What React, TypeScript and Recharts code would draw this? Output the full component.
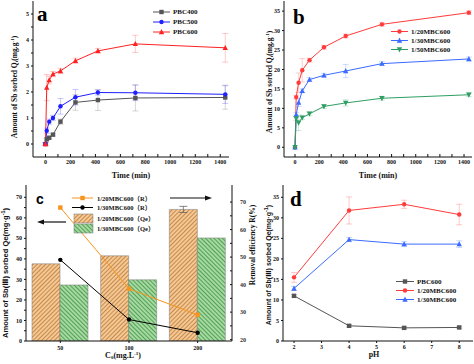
import React from 'react';
import { ComposedChart, LineChart, Line, Bar, XAxis, YAxis, ErrorBar, Legend, Label } from 'recharts';

// a / b : sorption kinetics
const timeMin = [0, 10, 30, 60, 120, 240, 420, 720, 1440];
const timeTicks = [0, 100, 200, 300, 400, 500, 600, 700, 800, 900, 1000, 1100, 1200, 1300, 1400];

const pbc400 = [0, 0.18, 0.24, 0.36, 0.86, 1.6, 1.69, 1.77, 1.79];
const pbc400Err = [0.05, 0.05, 0.05, 0.05, 0.1, 0.3, 0.4, 0.5, 0.45];
const pbc500 = [0, 0.51, 0.86, 1.0, 1.45, 1.8, 1.98, 1.97, 1.91];
const pbc500Err = [0.05, 0.1, 0.1, 0.1, 0.3, 0.3, 0.1, 0.3, 0.35];
const pbc600 = [0, 2.17, 2.46, 2.69, 2.81, 3.2, 3.58, 3.85, 3.7];
const pbc600Err = [0.05, 0.5, 0.15, 0.1, 0.1, 0.1, 0.1, 0.33, 0.55];
const aYTicks = [0, 0.5, 1, 1.5, 2, 2.5, 3, 3.5, 4, 4.5, 5];

const mbc20 = [0, 12.9, 16.6, 19.8, 22.4, 25.7, 28.6, 31.6, 34.6];
const mbc20Err = [0, 0.5, 2.5, 3, 0.5, 0.5, 0.5, 0.5, 0.5];
const mbc30 = [0, 8.4, 11.5, 14.5, 17.4, 18.5, 19.6, 21.5, 22.7];
const mbc30Err = [0, 0.5, 1, 0.5, 0.5, 0.5, 1.7, 0.5, 0.5];
const mbc50 = [0, 7.4, 6.3, 7.6, 8.6, 10.5, 11.4, 12.6, 13.5];
const mbc50Err = [0, 0.5, 2, 0.5, 0.5, 0.5, 0.8, 0.5, 0.5];
const bYTicks = [0, 5, 10, 15, 20, 25, 30, 35];

// c : initial concentration
const c0Labels = ['50', '100', '200'];
const qe20 = [37.6, 41.5, 64.1];
const qe20Err = [0, 0, 1.5];
const qe30 = [27.3, 29.8, 50.2];
const r20 = [68, 38.5, 29];
const r30 = [49, 27.3, 22.5];
const cYTicks = [0, 5, 10, 15, 20, 25, 30, 35, 40, 45, 50, 55, 60, 65, 70];
const rTicks = [20, 25, 30, 35, 40, 45, 50, 55, 60, 65, 70];

// d : pH
const phValues = [2, 4, 6, 8];
const pbc600Ph = [11, 3.7, 3.2, 3.3];
const pbc600PhErr = [0.3, 0.3, 0.3, 0.3];
const mbc20Ph = [15.5, 31.8, 33.3, 30.8];
const mbc20PhErr = [1.2, 3.3, 1, 2.5];
const mbc30Ph = [12.8, 24.7, 23.6, 23.6];
const mbc30PhErr = [0.5, 0.5, 0.6, 0.8];
const phTicks = [2, 3, 4, 5, 6, 7, 8];
const dYTicks = [0, 5, 10, 15, 20, 25, 30, 35];

const aData = timeMin.map((t, i) => ({
	t,
	pbc400: pbc400[i], e400: pbc400Err[i],
	pbc500: pbc500[i], e500: pbc500Err[i],
	pbc600: pbc600[i], e600: pbc600Err[i],
}));
const bData = timeMin.map((t, i) => ({
	t,
	m20: mbc20[i], e20: mbc20Err[i],
	m30: mbc30[i], e30: mbc30Err[i],
	m50: mbc50[i], e50: mbc50Err[i],
}));
const cData = c0Labels.map((c0, i) => ({ c0, qe20: qe20[i], qe20Err: qe20Err[i], qe30: qe30[i], r20: r20[i], r30: r30[i] }));
const dData = phValues.map((ph, i) => ({
	ph,
	pbc: pbc600Ph[i], ePbc: pbc600PhErr[i],
	m20: mbc20Ph[i], e20: mbc20PhErr[i],
	m30: mbc30Ph[i], e30: mbc30PhErr[i],
}));

type Shape = 'square' | 'circle' | 'up' | 'down';
type Series = { key: string; err: string; name: string; color: string; shape: Shape };

const aSeries: Series[] = [
	{ key: 'pbc400', err: 'e400', name: 'PBC400', color: '#555555', shape: 'square' },
	{ key: 'pbc500', err: 'e500', name: 'PBC500', color: '#1f1fff', shape: 'circle' },
	{ key: 'pbc600', err: 'e600', name: 'PBC600', color: '#ff2222', shape: 'up' },
];
const bSeries: Series[] = [
	{ key: 'm20', err: 'e20', name: '1/20MBC600', color: '#ff3b3b', shape: 'circle' },
	{ key: 'm30', err: 'e30', name: '1/30MBC600', color: '#3b6bff', shape: 'up' },
	{ key: 'm50', err: 'e50', name: '1/50MBC600', color: '#2f9e62', shape: 'down' },
];
const dSeries: Series[] = [
	{ key: 'pbc', err: 'ePbc', name: 'PBC600', color: '#555555', shape: 'square' },
	{ key: 'm20', err: 'e20', name: '1/20MBC600', color: '#ff3b3b', shape: 'circle' },
	{ key: 'm30', err: 'e30', name: '1/30MBC600', color: '#3b6bff', shape: 'up' },
];
const cLineSeries = [
	{ key: 'r20', name: '1/20MBC600（R）', color: '#f7941d', shape: 'square' as Shape },
	{ key: 'r30', name: '1/30MBC600（R）', color: '#000000', shape: 'circle' as Shape },
];
const cBarSeries = [
	{ key: 'qe20', name: '1/20MBC600（Qe）', pattern: 'hatchOrange' },
	{ key: 'qe30', name: '1/30MBC600（Qe）', pattern: 'hatchGreen' },
];

const SERIF = "'Liberation Serif', 'Noto Sans CJK SC', serif";
const SANS = "'Liberation Sans', 'DejaVu Sans', 'Noto Sans CJK SC', sans-serif";
const tickStyle = { fontSize: 6, fontFamily: SERIF, fontWeight: 700, fill: '#111' };
const titleSerif: React.CSSProperties = { fontSize: 7.5, fontFamily: SERIF, fontWeight: 700, fill: '#111' };
const titleSans: React.CSSProperties = { fontSize: 7.6, fontFamily: SANS, fontWeight: 700, fill: '#111' };
const legendText: React.CSSProperties = { fontSize: 7, fontFamily: SERIF, fontWeight: 700, fill: '#111' };

const intOnly = (v: number) => (Number.isInteger(v) ? String(v) : '');
const every = (step: number) => (v: number) => (v % step === 0 ? String(v) : '');

const Marker = ({ cx, cy, shape, color, size = 4.4 }: { cx?: number; cy?: number; shape: Shape; color: string; size?: number }) => {
	if (cx == null || cy == null || isNaN(cx) || isNaN(cy)) return null;
	const h = size / 2;
	if (shape === 'square') return <rect x={cx - h} y={cy - h} width={size} height={size} fill={color} />;
	if (shape === 'circle') return <circle cx={cx} cy={cy} r={h} fill={color} />;
	if (shape === 'up')
		return <polygon points={`${cx},${cy - h - 0.7} ${cx - h - 0.5},${cy + h} ${cx + h + 0.5},${cy + h}`} fill={color} />;
	return <polygon points={`${cx},${cy + h + 0.7} ${cx - h - 0.5},${cy - h} ${cx + h + 0.5},${cy - h}`} fill={color} />;
};

const dotFor = (shape: Shape, color: string) => (p: any) => (
	<Marker key={`dot-${p.index}`} cx={p.cx} cy={p.cy} shape={shape} color={color} />
);

// rotated axis title, centred on the axis box
const vTitle = (dx: number, dy: number, style: React.CSSProperties, body: React.ReactNode) => (props: any) => {
	const vb = props.viewBox;
	const x = vb.x + dx;
	const y = vb.y + vb.height / 2 + dy;
	return (
		<text x={x} y={y} transform={`rotate(-90 ${x} ${y})`} textAnchor='middle' dominantBaseline='central' style={style}>
			{body}
		</text>
	);
};

const hTitle = (dx: number, dy: number, style: React.CSSProperties, body: React.ReactNode) => (props: any) => {
	const vb = props.viewBox;
	const x = vb.x + vb.width / 2 + dx;
	const y = vb.y + dy;
	return (
		<text x={x} y={y} textAnchor='middle' dominantBaseline='central' style={style}>
			{body}
		</text>
	);
};

const qtTitle = (
	<>
		Amount of Sb sorbed Q<tspan dy={1.5} fontSize={5}>t</tspan>
		<tspan dy={-1.5}>(mg.g</tspan>
		<tspan dy={-2.5} fontSize={5}>-1</tspan>
		<tspan dy={2.5}>)</tspan>
	</>
);
const qeTitle = (
	<>
		Amount of Sb(Ⅲ) sorbed Qe(mg·g<tspan dy={-2.5} fontSize={5.5}>-1</tspan>
		<tspan dy={2.5}>)</tspan>
	</>
);

const LineLegend = ({ items, rowH, lineLen }: { items: Series[]; rowH: number; lineLen: number }) => (
	<svg width={100} height={items.length * rowH} style={{ display: 'block', overflow: 'visible' }}>
		{items.map((s, i) => {
			const y = rowH * i + rowH / 2;
			return (
				<g key={s.key}>
					<line x1={0} x2={lineLen} y1={y} y2={y} stroke={s.color} strokeWidth={1} />
					<Marker cx={lineLen / 2} cy={y} shape={s.shape} color={s.color} />
					<text x={lineLen + 3} y={y} dominantBaseline='central' style={legendText}>
						{s.name}
					</text>
				</g>
			);
		})}
	</svg>
);

const CLegend = () => (
	<svg width={190} height={46} style={{ display: 'block', overflow: 'visible' }}>
		{cLineSeries.map((s, i) => {
			const y = 8 + i * 9.5;
			return (
				<g key={s.key}>
					<line x1={42} x2={63} y1={y} y2={y} stroke={s.color} strokeWidth={1} />
					<Marker cx={52.5} cy={y} shape={s.shape} color={s.color} />
					<text x={67} y={y} dominantBaseline='central' style={{ ...legendText, fontSize: 6.5 }}>
						{s.name}
					</text>
				</g>
			);
		})}
		{cBarSeries.map((s, i) => {
			const y = 28.5 + i * 10;
			return (
				<g key={s.key}>
					<rect x={44} y={y - 4.5} width={19} height={9} fill={`url(#${s.pattern})`} stroke='#777' strokeWidth={0.5} />
					<text x={67} y={y} dominantBaseline='central' style={{ ...legendText, fontSize: 6.5 }}>
						{s.name}
					</text>
				</g>
			);
		})}
		<line x1={140} x2={176} y1={8} y2={8} stroke='#111' strokeWidth={1.2} />
		<polygon points='182,8 175,5.5 175,10.5' fill='#111' />
		<line x1={13} x2={36} y1={32} y2={32} stroke='#111' strokeWidth={1.2} />
		<polygon points='7,32 14,29.5 14,34.5' fill='#111' />
	</svg>
);

const axisLine = { stroke: '#111', strokeWidth: 1 };

const KineticsChart = ({
	data, series, yDomain, yTicks, yFmt, yWidth, titleDx, titleDy, legendPos, rowH,
}: {
	data: any[]; series: Series[]; yDomain: [number, number]; yTicks: number[]; yFmt: (v: number) => string;
	yWidth: number; titleDx: number; titleDy: number; legendPos: { left: number; top: number }; rowH: number;
}) => (
	<LineChart width={yWidth === 33 ? 232 : 234} height={182} data={data} margin={{ top: 1, right: yWidth === 33 ? 3 : 2, bottom: 0, left: 0 }}>
		<XAxis
			dataKey='t' type='number' domain={yWidth === 33 ? [-100, 1470] : [-91, 1466]} ticks={timeTicks} interval={0}
			tickFormatter={every(200)} height={25} tickSize={-3} tickMargin={6} tick={tickStyle}
			axisLine={axisLine} tickLine={{ stroke: '#111' }} allowDataOverflow
		>
			<Label content={hTitle(0, 18, { ...titleSerif, fontSize: 8 }, 'Time (min)')} />
		</XAxis>
		<XAxis xAxisId='top' orientation='top' type='number' domain={[0, 1]} height={0} tick={false} tickLine={false} axisLine={{ stroke: '#999', strokeWidth: 2 }} />
		<YAxis
			type='number' domain={yDomain} ticks={yTicks} interval={0} tickFormatter={yFmt} width={yWidth}
			tickSize={2} tickMargin={2} tick={tickStyle} axisLine={axisLine} tickLine={{ stroke: '#111' }} allowDataOverflow
		>
			<Label content={vTitle(titleDx, titleDy, titleSerif, qtTitle)} />
		</YAxis>
		<YAxis yAxisId='frame' orientation='right' width={0} domain={[0, 1]} tick={false} tickLine={false} axisLine={axisLine} />
		{series.map((s) => (
			<Line
				key={s.key} dataKey={s.key} stroke={s.color} strokeWidth={1} dot={dotFor(s.shape, s.color)}
				activeDot={false} isAnimationActive={false}
			>
				<ErrorBar dataKey={s.err} width={3} stroke={s.color} strokeOpacity={0.3} strokeWidth={0.8} direction='y' />
			</Line>
		))}
		<Legend
			layout='horizontal' verticalAlign='middle' align='center'
			wrapperStyle={{ ...legendPos, width: 100, height: series.length * rowH }}
			content={() => <LineLegend items={series} rowH={rowH} lineLen={17} />}
		/>
	</LineChart>
);

const PanelC = () => (
	<ComposedChart width={262} height={182} data={cData} margin={{ top: 3, right: 0, bottom: 0, left: 0 }} barCategoryGap={6} barGap={0}>
		<defs>
			<pattern id='hatchOrange' patternUnits='userSpaceOnUse' width={3} height={3} patternTransform='rotate(45)'>
				<rect width={3} height={3} fill='#f5c891' />
				<line x1={0.5} y1={0} x2={0.5} y2={3} stroke='#c0824a' strokeWidth={0.9} />
			</pattern>
			<pattern id='hatchGreen' patternUnits='userSpaceOnUse' width={3} height={3} patternTransform='rotate(-45)'>
				<rect width={3} height={3} fill='#a6d9a0' />
				<line x1={0.5} y1={0} x2={0.5} y2={3} stroke='#4a9a50' strokeWidth={0.9} />
			</pattern>
		</defs>
		<XAxis dataKey='c0' height={23} tickSize={2} tickMargin={3} tick={tickStyle} axisLine={axisLine} tickLine={{ stroke: '#111' }}>
			<Label
				content={hTitle(-6, 14, { ...titleSerif, fontSize: 8 }, (
					<>
						C<tspan dy={1.5} fontSize={5}>0</tspan>
						<tspan dy={-1.5}>(mg.L</tspan>
						<tspan dy={-2.5} fontSize={5}>-1</tspan>
						<tspan dy={2.5}>)</tspan>
					</>
				))}
			/>
		</XAxis>
		<XAxis xAxisId='top' orientation='top' type='number' domain={[0, 1]} height={0} tick={false} tickLine={false} axisLine={axisLine} />
		<YAxis
			yAxisId='left' type='number' domain={[0, 76]} ticks={cYTicks} interval={0} tickFormatter={every(10)} width={26}
			tickSize={2} tickMargin={2} tick={tickStyle} axisLine={axisLine} tickLine={{ stroke: '#111' }} allowDataOverflow
		>
			<Label content={vTitle(5, 10, titleSans, qeTitle)} />
		</YAxis>
		<YAxis
			yAxisId='r' orientation='right' type='number' domain={[19.5, 76.2]} ticks={rTicks} interval={0} tickFormatter={every(10)}
			width={30} tickSize={-2} tickMargin={10} tick={{ ...tickStyle, fill: '#333' }} axisLine={axisLine} tickLine={{ stroke: '#111' }} allowDataOverflow
		>
			<Label content={vTitle(20, -18, titleSerif, 'Removal efficiency R(%)')} />
		</YAxis>
		{cBarSeries.map((s) => (
			<Bar key={s.key} yAxisId='left' dataKey={s.key} fill={`url(#${s.pattern})`} stroke='#777' strokeWidth={0.5} isAnimationActive={false}>
				{s.key === 'qe20' && <ErrorBar dataKey='qe20Err' width={4} stroke='#666' strokeWidth={0.8} direction='y' />}
			</Bar>
		))}
		{cLineSeries.map((s) => (
			<Line
				key={s.key} yAxisId='r' dataKey={s.key} stroke={s.color} strokeWidth={1} dot={dotFor(s.shape, s.color)}
				activeDot={false} isAnimationActive={false}
			/>
		))}
		<Legend
			layout='horizontal' verticalAlign='middle' align='center'
			wrapperStyle={{ left: 30, top: 8, width: 190, height: 46 }}
			content={() => <CLegend />}
		/>
	</ComposedChart>
);

const PanelD = () => (
	<LineChart width={216} height={182} data={dData} margin={{ top: 3, right: 1, bottom: 0, left: 0 }}>
		<XAxis
			dataKey='ph' type='number' domain={[1.6, 8.5]} ticks={phTicks} interval={0} height={23}
			tickSize={2} tickMargin={2} tick={tickStyle} axisLine={axisLine} tickLine={{ stroke: '#111' }} allowDataOverflow
		>
			<Label content={hTitle(-4, 13, { ...titleSerif, fontSize: 8 }, 'pH')} />
		</XAxis>
		<XAxis xAxisId='top' orientation='top' type='number' domain={[0, 1]} height={0} tick={false} tickLine={false} axisLine={axisLine} />
		<YAxis
			type='number' domain={[0, 38]} ticks={dYTicks} interval={0} width={25}
			tickSize={2} tickMargin={2} tick={tickStyle} axisLine={axisLine} tickLine={{ stroke: '#111' }} allowDataOverflow
		>
			<Label content={vTitle(10, 2, { ...titleSans, fontSize: 7 }, qeTitle)} />
		</YAxis>
		<YAxis yAxisId='frame' orientation='right' width={0} domain={[0, 1]} tick={false} tickLine={false} axisLine={axisLine} />
		{dSeries.map((s) => (
			<Line
				key={s.key} dataKey={s.key} stroke={s.color} strokeWidth={1} dot={dotFor(s.shape, s.color)}
				activeDot={false} isAnimationActive={false}
			>
				<ErrorBar dataKey={s.err} width={3} stroke={s.color} strokeOpacity={0.35} strokeWidth={0.8} direction='y' />
			</Line>
		))}
		<Legend
			layout='horizontal' verticalAlign='middle' align='center'
			wrapperStyle={{ left: 138, top: 94.5, width: 100, height: 27 }}
			content={() => <LineLegend items={dSeries} rowH={9} lineLen={18} />}
		/>
	</LineChart>
);

const panelLetter = (x: number, y: number, ch: string, family: string, size: number) => (
	<text x={x} y={y} style={{ fontFamily: family, fontSize: size, fontWeight: 700, fill: '#000' }}>
		{ch}
	</text>
);

export default function App() {
	return (
		<div style={{ position: 'absolute', left: 0, top: 0, width: 474, height: 364, background: '#fff', overflow: 'hidden' }}>
			<div style={{ position: 'absolute', left: 0, top: 0 }}>
				<KineticsChart
					data={aData} series={aSeries} yDomain={[-0.5, 5.5]} yTicks={aYTicks} yFmt={intOnly} yWidth={33}
					titleDx={14} titleDy={8} legendPos={{ left: 153, top: 7 }} rowH={10}
				/>
			</div>
			<div style={{ position: 'absolute', left: 240, top: 0 }}>
				<KineticsChart
					data={bData} series={bSeries} yDomain={[-2.5, 37.6]} yTicks={bYTicks} yFmt={(v) => String(v)} yWidth={44}
					titleDx={29} titleDy={3} legendPos={{ left: 151, top: 26.5 }} rowH={9}
				/>
			</div>
			<div style={{ position: 'absolute', left: 0, top: 182 }}>
				<PanelC />
			</div>
			<div style={{ position: 'absolute', left: 258, top: 182 }}>
				<PanelD />
			</div>
			<svg width={474} height={364} style={{ position: 'absolute', left: 0, top: 0, pointerEvents: 'none' }}>
				{panelLetter(37, 21, 'a', SERIF, 21)}
				{panelLetter(293, 24, 'b', SERIF, 21)}
				{panelLetter(36, 204, 'c', SANS, 14)}
				{panelLetter(290, 206, 'd', SERIF, 21)}
			</svg>
		</div>
	);
}
